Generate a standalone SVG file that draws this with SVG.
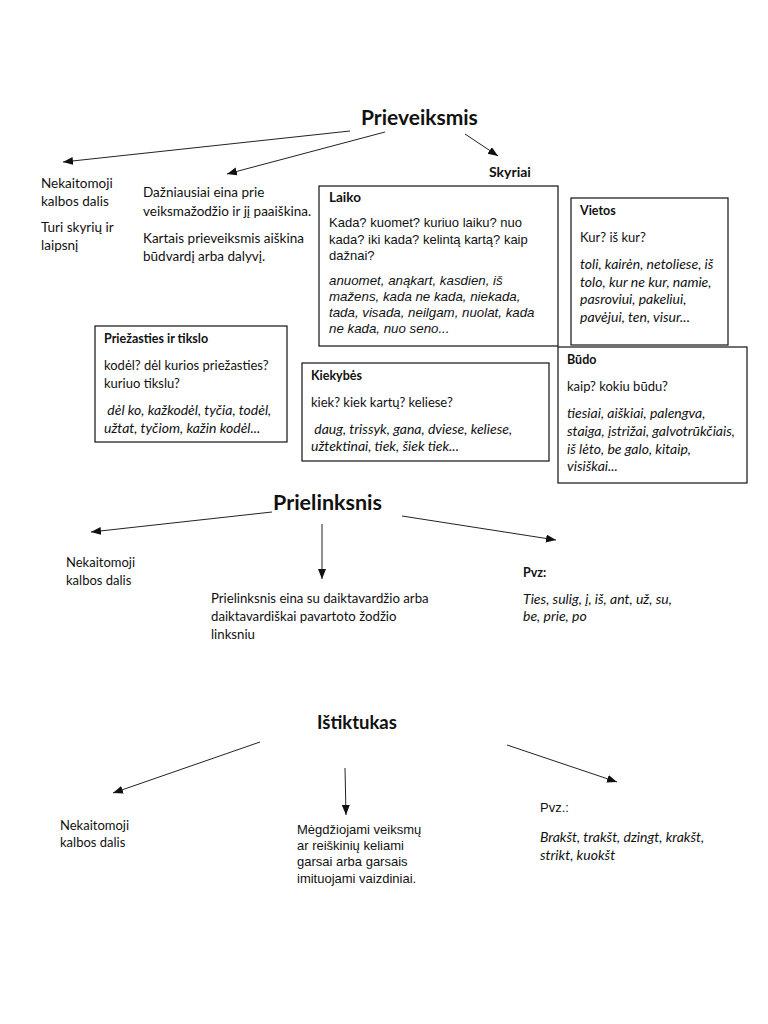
<svg xmlns="http://www.w3.org/2000/svg" width="768" height="1024" viewBox="0 0 768 1024">
<style>
.t{font-family:Lato,"Noto Sans",sans-serif;font-size:13.5px;fill:#111}
.a{font-family:"Liberation Sans",Arial,sans-serif;font-size:13px;fill:#111}
.i{font-style:italic}
.b{font-weight:bold}
.li{font-family:Lato,"Noto Sans",sans-serif;font-style:italic;font-size:14px;fill:#111}
.h{font-family:Lato,"Noto Sans",sans-serif;font-weight:bold;font-size:21px;fill:#111}
.box{fill:#fff;stroke:#111;stroke-width:1.2}
.c line{stroke:#222;stroke-width:1;marker-end:url(#ah)}
</style>
<defs>
<marker id="ah" markerUnits="userSpaceOnUse" markerWidth="11" markerHeight="9" refX="10" refY="4" orient="auto">
<path d="M0,0 L10,4 L0,8 z" fill="#111"/>
</marker>
</defs>
<rect width="768" height="1024" fill="#fff"/>

<g id="connectors" class="c">
<line x1="350" y1="131" x2="63" y2="162"/>
<line x1="385" y1="132" x2="227" y2="174"/>
<line x1="465" y1="134" x2="498" y2="156"/>
<line x1="272" y1="512" x2="91" y2="532"/>
<line x1="322" y1="524" x2="322" y2="579"/>
<line x1="402" y1="516" x2="556" y2="540"/>
<line x1="260" y1="742" x2="113" y2="793"/>
<line x1="345" y1="768" x2="346" y2="815"/>
<line x1="507" y1="745" x2="617" y2="782"/>
</g>

<g id="prieveiksmis"><text class="h" x="361" y="125">Prieveiksmis</text></g>
<g id="nekaitomoji1">
<text class="t" x="41" y="188">Nekaitomoji</text>
<text class="t" x="41" y="206">kalbos dalis</text>
<text class="t" x="41" y="232">Turi skyrių ir</text>
<text class="t" x="41" y="250">laipsnį</text>
</g>
<g id="dazniausiai">
<text class="t" x="143" y="197">Dažniausiai eina prie</text>
<text class="t" x="143" y="216">veiksmažodžio ir jį paaiškina.</text>
<text class="t" x="143" y="243">Kartais prieveiksmis aiškina</text>
<text class="t" x="143" y="261">būdvardį arba dalyvį.</text>
</g>
<g id="skyriai"><text class="t b" x="489" y="177" style="font-size:14px">Skyriai</text></g>

<g id="laiko">
<rect class="box" x="319" y="186" width="239" height="160"/>
<text class="t b" x="329" y="202">Laiko</text>
<text class="a" x="329" y="227">Kada? kuomet? kuriuo laiku? nuo</text>
<text class="a" x="329" y="244">kada? iki kada? kelintą kartą? kaip</text>
<text class="a" x="329" y="260">dažnai?</text>
<text class="a i" x="329" y="285" style="font-size:13.3px">anuomet, anąkart, kasdien, iš</text>
<text class="a i" x="329" y="301" style="font-size:13.3px">mažens, kada ne kada, niekada,</text>
<text class="a i" x="329" y="317" style="font-size:13.3px">tada, visada, neilgam, nuolat, kada</text>
<text class="a i" x="329" y="333" style="font-size:13.3px">ne kada, nuo seno...</text>
</g>

<g id="vietos">
<rect class="box" x="571" y="198" width="157" height="147"/>
<text class="t b" x="580" y="215" style="font-size:12.5px">Vietos</text>
<text class="t" x="580" y="242" style="font-size:13px">Kur? iš kur?</text>
<text class="li" x="580" y="269">toli, kairėn, netoliese, iš</text>
<text class="li" x="580" y="287">tolo, kur ne kur, namie,</text>
<text class="li" x="580" y="304">pasroviui, pakeliui,</text>
<text class="li" x="580" y="322">pavėjui, ten, visur...</text>
</g>

<g id="budo">
<rect class="box" x="558" y="347" width="189" height="136"/>
<text class="t b" x="567" y="364" style="font-size:12.5px">Būdo</text>
<text class="t" x="567" y="391" style="font-size:13px">kaip? kokiu būdu?</text>
<text class="li" x="567" y="418">tiesiai, aiškiai, palengva,</text>
<text class="li" x="567" y="436">staiga, įstrižai, galvotrūkčiais,</text>
<text class="li" x="567" y="454">iš lėto, be galo, kitaip,</text>
<text class="li" x="567" y="471">visiškai...</text>
</g>

<g id="priezasties">
<rect class="box" x="95" y="326" width="192" height="116"/>
<text class="t b" x="104" y="343" style="font-size:12.5px">Priežasties ir tikslo</text>
<text class="t" x="104" y="370" style="font-size:13px">kodėl? dėl kurios priežasties?</text>
<text class="t" x="104" y="388" style="font-size:13px">kuriuo tikslu?</text>
<text class="li" x="104" y="415" xml:space="preserve"> dėl ko, kažkodėl, tyčia, todėl,</text>
<text class="li" x="104" y="433">užtat, tyčiom, kažin kodėl...</text>
</g>

<g id="kiekybes">
<rect class="box" x="302" y="363" width="247" height="98"/>
<text class="t b" x="311" y="380" style="font-size:12.5px">Kiekybės</text>
<text class="t" x="311" y="407" style="font-size:13px">kiek? kiek kartų? keliese?</text>
<text class="li" x="311" y="434" xml:space="preserve"> daug, trissyk, gana, dviese, keliese,</text>
<text class="li" x="311" y="451">užtektinai, tiek, šiek tiek...</text>
</g>

<g id="prielinksnis"><text class="h" x="273" y="510" style="font-size:21.5px">Prielinksnis</text></g>
<g id="nekaitomoji2">
<text class="t" x="66" y="567" style="font-size:13px">Nekaitomoji</text>
<text class="t" x="66" y="585" style="font-size:13px">kalbos dalis</text>
</g>
<g id="linksniu">
<text class="t" x="211" y="603" style="font-size:13.2px">Prielinksnis eina su daiktavardžio arba</text>
<text class="t" x="211" y="621" style="font-size:13.2px">daiktavardiškai pavartoto žodžio</text>
<text class="t" x="211" y="639" style="font-size:13.2px">linksniu</text>
</g>
<g id="pvz1">
<text class="t b" x="523" y="577" style="font-size:12.5px">Pvz:</text>
<text class="li" x="523" y="604">Ties, sulig, į, iš, ant, už, su,</text>
<text class="li" x="523" y="621">be, prie, po</text>
</g>

<g id="istiktukas"><text class="h" x="317" y="729" style="font-size:18.5px">Ištiktukas</text></g>
<g id="nekaitomoji3">
<text class="t" x="60" y="830" style="font-size:13px">Nekaitomoji</text>
<text class="t" x="60" y="847" style="font-size:13px">kalbos dalis</text>
</g>
<g id="megdziojami">
<text class="a" x="297" y="834">Mėgdžiojami veiksmų</text>
<text class="a" x="297" y="850">ar reiškinių keliami</text>
<text class="a" x="297" y="866">garsai arba garsais</text>
<text class="a" x="297" y="883">imituojami vaizdiniai.</text>
</g>
<g id="pvz2">
<text class="a" x="540" y="812">Pvz.:</text>
<text class="li" x="540" y="842">Brakšt, trakšt, dzingt, krakšt,</text>
<text class="li" x="540" y="860">strikt, kuokšt</text>
</g>
</svg>
